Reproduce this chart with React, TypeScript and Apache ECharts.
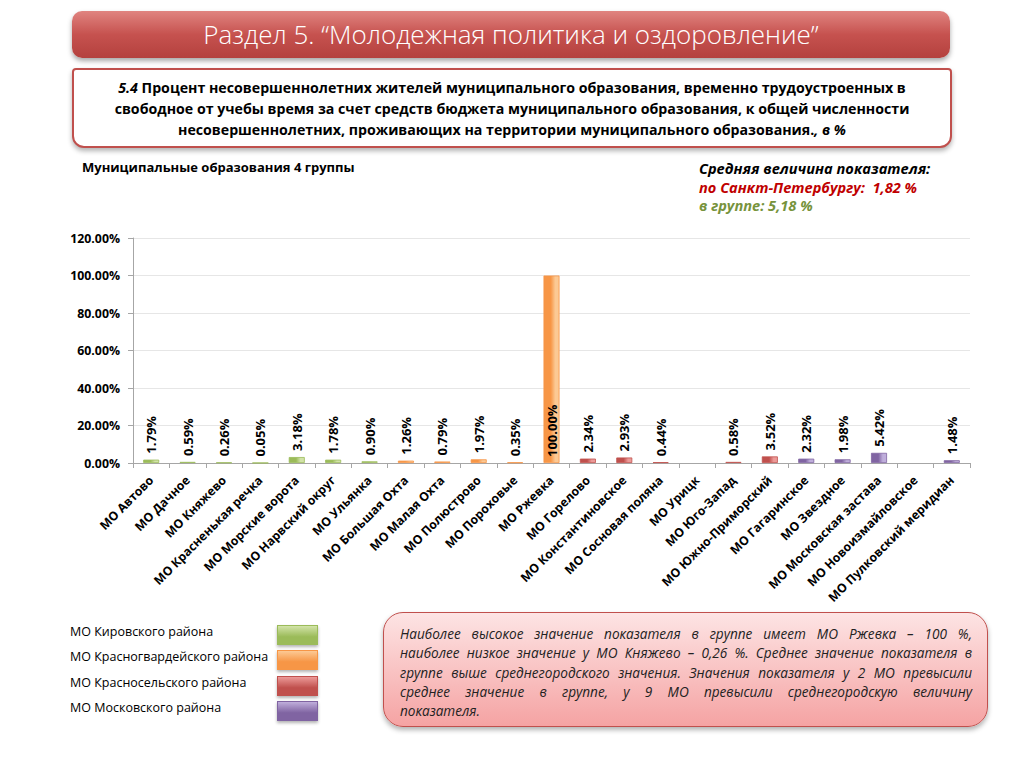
import * as echarts from "echarts";
import { useEffect, useRef } from "react";

const FONT = "'Open Sans', 'Noto Sans', sans-serif";

// Municipal units of group 4, in chart order
const CATEGORIES = [
  "МО Автово",
  "МО Дачное",
  "МО Княжево",
  "МО Красненькая речка",
  "МО Морские ворота",
  "МО Нарвский округ",
  "МО Ульянка",
  "МО Большая Охта",
  "МО Малая Охта",
  "МО Полюстрово",
  "МО Пороховые",
  "МО Ржевка",
  "МО Горелово",
  "МО Константиновское",
  "МО Сосновая поляна",
  "МО Урицк",
  "МО Юго-Запад",
  "МО Южно-Приморский",
  "МО Гагаринское",
  "МО Звездное",
  "МО Московская застава",
  "МО Новоизмайловское",
  "МО Пулковский меридиан",
];

// Percent values (null = no value shown)
const VALUES: (number | null)[] = [
  1.79, 0.59, 0.26, 0.05, 3.18, 1.78, 0.9, 1.26, 0.79, 1.97, 0.35, 100.0, 2.34, 2.93, 0.44, null,
  0.58, 3.52, 2.32, 1.98, 5.42, null, 1.48,
];

// District index of each unit (into DISTRICTS)
const DISTRICT_OF = [0, 0, 0, 0, 0, 0, 0, 1, 1, 1, 1, 1, 2, 2, 2, 2, 2, 2, 3, 3, 3, 3, 3];

const DISTRICTS = [
  "МО Кировского района",
  "МО Красногвардейского района",
  "МО Красносельского района",
  "МО Московского района",
];

// [dark, light] per district
const DISTRICT_COLORS: [string, string][] = [
  ["#9bbb59", "#d2e3a8"],
  ["#f79646", "#fcc994"],
  ["#c0504d", "#ec9a98"],
  ["#8064a2", "#bfaedb"],
];

const Y_TICKS = { min: 0, max: 120, interval: 20 };

const TITLE_LINES = [
  "Процент несовершеннолетних жителей муниципального образования, временно трудоустроенных в",
  "свободное от учебы время за счет средств бюджета муниципального образования, к общей численности",
  "несовершеннолетних, проживающих на территории муниципального образования.",
];

const NOTE_LINES = [
  "Наиболее высокое значение показателя в группе имеет МО Ржевка – 100 %,",
  "наиболее низкое значение у МО Княжево – 0,26 %. Среднее значение показателя в",
  "группе выше среднегородского значения. Значения показателя у 2 МО превысили",
  "среднее значение в группе, у 9 МО превысили среднегородскую величину",
  "показателя.",
];

function barGradient(d: number) {
  const [dark, light] = DISTRICT_COLORS[d];
  return new echarts.graphic.LinearGradient(0, 0, 1, 0, [
    { offset: 0, color: dark },
    { offset: 0.45, color: dark },
    { offset: 0.75, color: light },
    { offset: 1, color: light },
  ]);
}

function Chart() {
  const ref = useRef<HTMLDivElement>(null);

  useEffect(() => {
    const el = ref.current;
    if (!el) return;
    const chart = echarts.init(el, undefined, { renderer: "svg" });
    chart.setOption({
      animation: false,
      grid: { left: 73, right: 10, top: 13, bottom: 152, outerBoundsMode: "none" },
      xAxis: {
        type: "category",
        data: CATEGORIES,
        axisLine: { lineStyle: { color: "#a6a6a6" } },
        axisTick: { show: true, lineStyle: { color: "#a6a6a6" } },
        axisLabel: {
          interval: 0,
          rotate: 45,
          margin: 15,
          color: "#000",
          fontFamily: FONT,
          fontSize: 12.2,
          fontWeight: "bold",
        },
      },
      yAxis: {
        type: "value",
        ...Y_TICKS,
        axisLine: { show: true, lineStyle: { color: "#a6a6a6" } },
        axisTick: { show: true, lineStyle: { color: "#a6a6a6" } },
        splitLine: { lineStyle: { color: "#e6e6e6" } },
        axisLabel: {
          margin: 13,
          color: "#000",
          fontFamily: FONT,
          fontSize: 12.3,
          fontWeight: "bold",
          formatter: (v: number) => `${v.toFixed(2)}%`,
        },
      },
      series: [
        {
          type: "bar",
          barWidth: 16,
          data: VALUES.map((v, i) => {
            const d = DISTRICT_OF[i];
            const big = v !== null && v > 50;
            return {
              value: v,
              itemStyle: {
                color: barGradient(d),
                borderColor: DISTRICT_COLORS[d][0],
                borderWidth: 0.8,
              },
              label: {
                show: v !== null,
                position: big ? "insideBottom" : "top",
                rotate: 90,
                align: "left",
                verticalAlign: "middle",
                distance: 6,
                color: "#000",
                fontFamily: FONT,
                fontSize: 13,
                fontWeight: "bold",
                formatter: (p: { value: number }) => `${p.value.toFixed(2)}%`,
              },
            };
          }),
        },
      ],
    });
    return () => chart.dispose();
  }, []);

  return <div ref={ref} style={{ position: "absolute", left: 60, top: 225, width: 920, height: 390 }} />;
}

export default function App() {
  return (
    <div
      style={{
        position: "absolute",
        left: 0,
        top: 0,
        width: 1024,
        height: 768,
        background: "#fff",
        fontFamily: FONT,
        overflow: "hidden",
      }}
    >
      {/* Section header */}
      <div
        style={{
          position: "absolute",
          left: 72,
          top: 11,
          width: 878,
          height: 47,
          borderRadius: 10,
          background: "linear-gradient(#e08480, #c6524f 50%, #b4413e)",
          boxShadow: "0 3px 5px rgba(0,0,0,0.35)",
          color: "#fff",
          fontSize: 26,
          fontWeight: 300,
          lineHeight: "46px",
          textAlign: "center",
          whiteSpace: "nowrap",
        }}
      >
        Раздел 5. “Молодежная политика и оздоровление”
      </div>

      {/* Indicator title */}
      <div
        style={{
          position: "absolute",
          left: 72,
          top: 68,
          width: 876,
          height: 76,
          border: "2px solid #c0504d",
          borderRadius: "4px 4px 12px 12px",
          boxShadow: "0 3px 5px rgba(0,0,0,0.3)",
          background: "#fff",
          fontSize: 14.2,
          fontWeight: 700,
          lineHeight: "21px",
          color: "#000",
          textAlign: "center",
          whiteSpace: "nowrap",
        }}
      >
        <div style={{ paddingTop: 7 }}>
          <div>
            <i>5.4</i> {TITLE_LINES[0]}
          </div>
          <div>{TITLE_LINES[1]}</div>
          <div>
            {TITLE_LINES[2]}
            <i>, в %</i>
          </div>
        </div>
      </div>

      <div
        style={{
          position: "absolute",
          left: 82,
          top: 158,
          fontSize: 13,
          fontWeight: 700,
          color: "#000",
          whiteSpace: "nowrap",
        }}
      >
        Муниципальные образования 4 группы
      </div>

      <div
        style={{
          position: "absolute",
          left: 699,
          top: 159,
          fontSize: 14.6,
          fontWeight: 700,
          fontStyle: "italic",
          lineHeight: "18.5px",
          whiteSpace: "nowrap",
        }}
      >
        <div style={{ color: "#000" }}>Средняя величина показателя:</div>
        <div style={{ color: "#c00000" }}>по Санкт-Петербургу:&nbsp; 1,82 %</div>
        <div style={{ color: "#77933c" }}>в группе: 5,18 %</div>
      </div>

      <Chart />

      {/* District legend */}
      {DISTRICTS.map((name, i) => (
        <div key={name}>
          <div
            style={{
              position: "absolute",
              left: 70,
              top: 623 + i * 25.3,
              fontSize: 12.5,
              color: "#000",
              whiteSpace: "nowrap",
            }}
          >
            {name}
          </div>
          <div
            style={{
              position: "absolute",
              left: 277,
              top: 625 + i * 25.3,
              width: 41,
              height: 20,
              boxSizing: "border-box",
              background: `linear-gradient(${DISTRICT_COLORS[i][1]}, ${DISTRICT_COLORS[i][0]} 60%)`,
              border: `1px solid ${DISTRICT_COLORS[i][0]}`,
              boxShadow: "0 2px 3px rgba(0,0,0,0.3)",
            }}
          />
        </div>
      ))}

      {/* Commentary */}
      <div
        style={{
          position: "absolute",
          left: 383,
          top: 612,
          width: 605,
          height: 115,
          boxSizing: "border-box",
          borderRadius: 20,
          border: "1.5px solid #c0504d",
          background: "linear-gradient(#fde4e4, #f5a3a3)",
          boxShadow: "0 3px 5px rgba(0,0,0,0.3)",
          padding: "11px 15px 0 16px",
          fontSize: 13.6,
          fontStyle: "italic",
          lineHeight: "19.3px",
          color: "#222",
        }}
      >
        {NOTE_LINES.map((line, i) => (
          <div
            key={i}
            style={{
              whiteSpace: "nowrap",
              textAlign: "justify",
              textAlignLast: i < NOTE_LINES.length - 1 ? "justify" : "left",
            }}
          >
            {line}
          </div>
        ))}
      </div>
    </div>
  );
}
